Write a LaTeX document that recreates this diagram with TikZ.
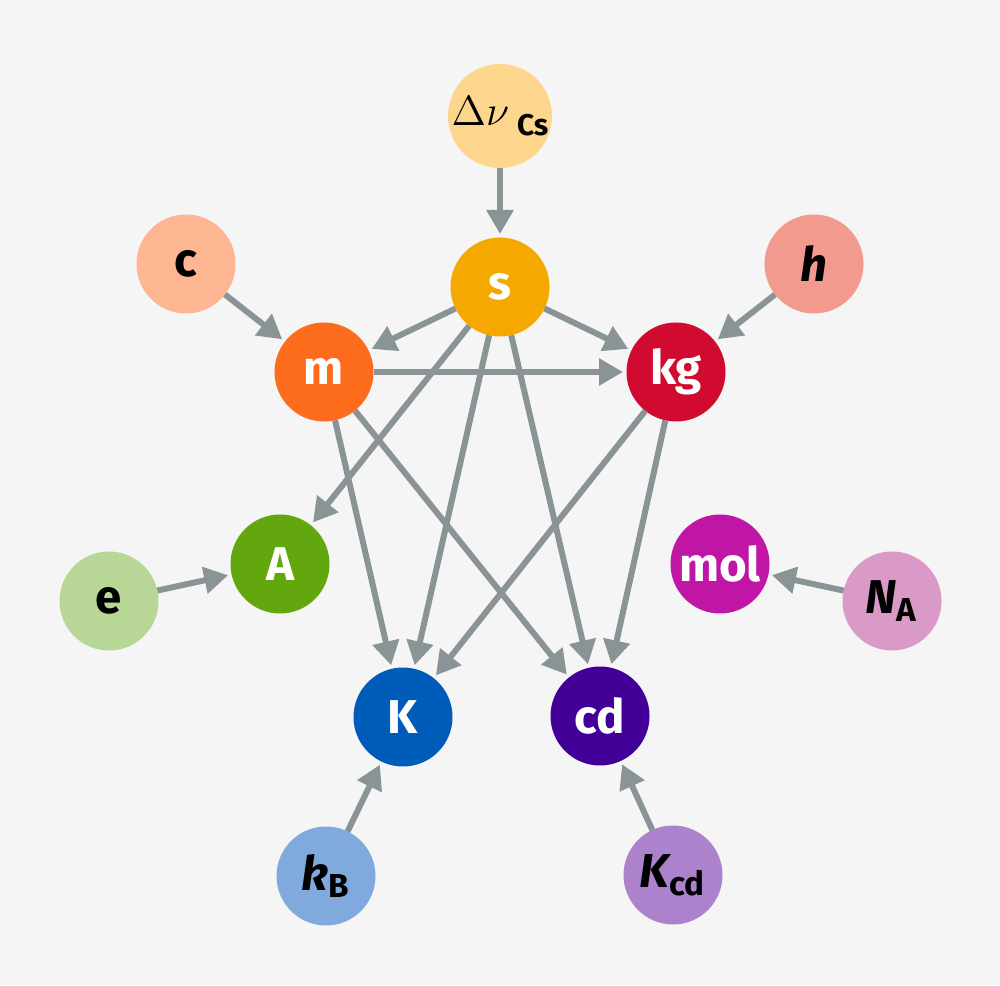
\documentclass[tikz,border=0pt]{standalone}
\usepackage[no-math]{fontspec}
\setmainfont{Fira Sans}
\usetikzlibrary{arrows.meta}

\definecolor{bg}{HTML}{F5F5F5}
\definecolor{linkgray}{HTML}{8A9396}
\definecolor{cdnu}{HTML}{FDD68E}
\definecolor{cs}{HTML}{F5A800}
\definecolor{cc}{HTML}{FDB592}
\definecolor{ch}{HTML}{F39A8E}
\definecolor{cm}{HTML}{FD6B1D}
\definecolor{ckg}{HTML}{D10A2F}
\definecolor{cA}{HTML}{63A70F}
\definecolor{ce}{HTML}{B8D695}
\definecolor{cmol}{HTML}{C016A5}
\definecolor{cNA}{HTML}{DA9AC7}
\definecolor{cK}{HTML}{005CB9}
\definecolor{ccd}{HTML}{430098}
\definecolor{ckB}{HTML}{80AADD}
\definecolor{cKcd}{HTML}{AC82CD}

\begin{document}
\begin{tikzpicture}[
    unit/.style={circle, fill=#1, minimum size=0.99cm, inner sep=0pt, outer sep=0pt, text=white, font=\fontsize{13.5}{16}\selectfont\bfseries},
    const/.style={unit=#1, text=black},
    link/.style={draw, color=linkgray, line width=1.7pt, -{Triangle[length=2.4mm, width=2.6mm, fill=linkgray]}, shorten >=1pt},
]
\fill [bg] (0,0) rectangle (10,9.85);

% Nodes
\node [const=cdnu] (dnu) at (5.00,8.69) {{\fontsize{12.5}{14}\selectfont\mdseries$\Delta\nu$}\,\raisebox{-0.4ex}{\fontsize{8.5}{9}\selectfont Cs}};
\node [unit=cs] (s) at (5.00,6.98) {s};
\node [const=cc] (c) at (1.86,7.21) {c};
\node [const=ch] (h) at (8.14,7.21) {\itshape h};
\node [unit=cm] (m) at (3.24,6.13) {m};
\node [unit=ckg] (kg) at (6.76,6.13) {kg};
\node [unit=cA] (A) at (2.80,4.21) {A};
\node [const=ce] (e) at (1.09,3.84) {e};
\node [unit=cmol] (mol) at (7.20,4.21) {mol};
\node [const=cNA] (NA) at (8.92,3.84) {{\itshape N}\textsubscript{A}};
\node [unit=cK] (K) at (4.03,2.68) {K};
\node [unit=ccd] (cd) at (6.00,2.69) {cd};
\node [const=ckB] (kB) at (3.26,1.09) {{\itshape k}\textsubscript{B}};
\node [const=cKcd] (Kcd) at (6.73,1.10) {{\itshape K}\textsubscript{cd}};

% Lines
\path [link] (dnu) edge (s);
\path [link] (c) edge (m);
\path [link] (h) edge (kg);
\path [link] (s) edge (m);
\path [link] (s) edge (kg);
\path [link] (m) edge (kg);
\path [link] (s) edge (A);
\path [link] (s) edge (K);
\path [link] (s) edge (cd);
\path [link] (m) edge (K);
\path [link] (m) edge (cd);
\path [link] (kg) edge (K);
\path [link] (kg) edge (cd);
\path [link] (e) edge (A);
\path [link] (NA) edge (mol);
\path [link] (kB) edge (K);
\path [link] (Kcd) edge (cd);

\end{tikzpicture}
\end{document}
